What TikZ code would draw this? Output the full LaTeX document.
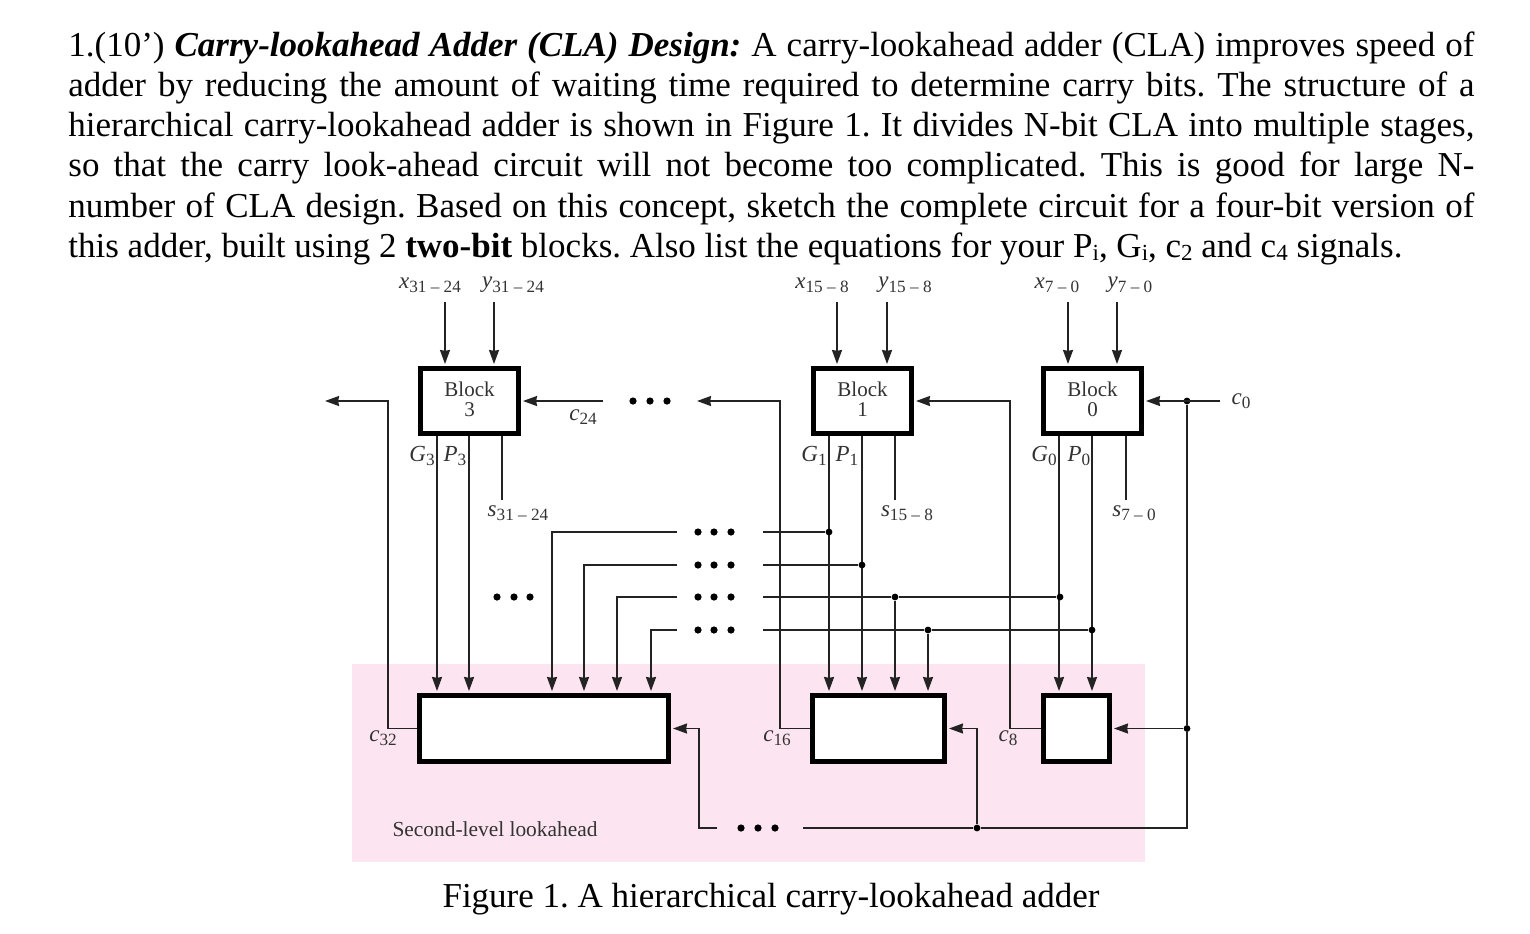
\documentclass[tikz,border=0pt]{standalone}
\usepackage{fontspec}
\setmainfont{Liberation Serif}
\usetikzlibrary{arrows.meta,calc}
\definecolor{lookpink}{RGB}{252,228,240}
\definecolor{wiregray}{RGB}{35,35,35}
\newcommand{\sig}[2]{{\fontsize{11.5}{13}\selectfont\itshape #1}\raisebox{-2.2pt}{\fontsize{8.6}{12}\selectfont #2}}
\newcommand{\lowsub}[1]{\raisebox{-1.6pt}{\fontsize{11.5}{12}\selectfont #1}}

\begin{document}
\begin{tikzpicture}[x=0.5pt, y=-0.5pt,
    wire/.style={draw=wiregray, line width=0.8pt},
    arrow/.style={wire, -{Stealth[length=7pt,width=5pt,inset=0.4pt]}, shorten >=1pt},
    blockbox/.style={rectangle, draw=black, fill=white, line width=2.5pt, minimum width=49pt, minimum height=32.5pt, align=center, text depth=2pt, font=\fontsize{10.5}{10}\selectfont, text=black!80},
    lookbox/.style={rectangle, draw=black, fill=white, line width=2.5pt, minimum height=33pt},
    label/.style={font=\fontsize{11}{12}\selectfont, text=black!80, inner sep=0pt},
    dot/.style={circle, fill=black, inner sep=0pt, minimum size=3.6pt},
    junction/.style={dot, minimum size=3.4pt}
]
\useasboundingbox (0,0) rectangle (1530,933);

% Question text
\node[anchor=north west, inner sep=0pt, text width=703pt, align=justify, font=\fontsize{17.5}{20.15}\selectfont\frenchspacing] (question) at (68,31) {1.(10’) \textbf{\textit{Carry-lookahead Adder (CLA) Design:}} A carry-lookahead adder (CLA) improves speed of\linebreak
adder by reducing the amount of waiting time required to determine carry bits. The structure of a\linebreak
hierarchical carry-lookahead adder is shown in Figure 1. It divides N-bit CLA into multiple stages,\linebreak
so that the carry look-ahead circuit will not become too complicated. This is good for large N-\linebreak
number of CLA design. Based on this concept, sketch the complete circuit for a four-bit version of\linebreak
this adder, built using 2 \textbf{two-bit} blocks. Also list the equations for your P\lowsub{i}, G\lowsub{i}, c\lowsub{2} and c\lowsub{4} signals.};

% Pink second-level region
\node[rectangle, fill=lookpink, minimum width=396.5pt, minimum height=99pt, inner sep=0pt] (region) at (748.5,763) {};

% Upper blocks
\node[blockbox] (blk3) at (469.5,401) {Block\\3};
\node[blockbox] (blk1) at (862.5,401) {Block\\1};
\node[blockbox] (blk0) at (1092.5,401) {Block\\0};

% Lookahead boxes
\node[lookbox, minimum width=124.5pt] (look3) at (544,728.5) {};
\node[lookbox, minimum width=66pt] (look1) at (878.5,728.5) {};
\node[lookbox, minimum width=33pt] (look0) at (1076.5,728.5) {};

% Inputs on top
\node[label] (x3) at (430,285) {\sig{x}{31 – 24}};
\node[label] (y3) at (513,285) {\sig{y}{31 – 24}};
\node[label] (x1) at (822,285) {\sig{x}{15 – 8}};
\node[label] (y1) at (905,285) {\sig{y}{15 – 8}};
\node[label] (x0) at (1057,285) {\sig{x}{7 – 0}};
\node[label] (y0) at (1130,285) {\sig{y}{7 – 0}};
\foreach \name/\xpos/\blk in {x3/445/blk3, y3/494/blk3, x1/837/blk1, y1/887/blk1, x0/1068/blk0, y0/1117/blk0} {
    \coordinate (\name top) at (\xpos,302);
    \draw[arrow] (\name top) -- (\name top |- \blk.north);
}

% Sum outputs
\node[label] (s3) at (518,513) {\sig{s}{31 – 24}};
\node[label] (s1) at (907,513) {\sig{s}{15 – 8}};
\node[label] (s0) at (1134,513) {\sig{s}{7 – 0}};
\coordinate (s3end) at (502,500);
\coordinate (s1end) at (895,500);
\coordinate (s0end) at (1126,500);
\draw[wire] (blk3.south -| s3end) -- (s3end);
\draw[wire] (blk1.south -| s1end) -- (s1end);
\draw[wire] (blk0.south -| s0end) -- (s0end);

% G and P labels
\node[label] (g3) at (422,456) {\sig{G}{3}};
\node[label] (p3) at (455,456) {\sig{P}{3}};
\node[label] (g1) at (814,456) {\sig{G}{1}};
\node[label] (p1) at (847,456) {\sig{P}{1}};
\node[label] (g0) at (1044,456) {\sig{G}{0}};
\node[label] (p0) at (1079,456) {\sig{P}{0}};

% G and P lines down to the lookahead boxes
\foreach \xpos/\blk/\look in {437/blk3/look3, 469/blk3/look3, 829/blk1/look1, 862/blk1/look1, 1059/blk0/look0, 1092/blk0/look0} {
    \coordinate (gp) at (\xpos,500);
    \draw[arrow] (\blk.south -| gp) -- (\look.north -| gp);
}

% Bus lines between the blocks
\coordinate (bus1a) at (677,532);
\coordinate (bus2a) at (677,565);
\coordinate (bus3a) at (677,597);
\coordinate (bus4a) at (677,630);
\coordinate (bus1b) at (763,532);
\coordinate (bus2b) at (763,565);
\coordinate (bus3b) at (763,597);
\coordinate (bus4b) at (763,630);
\coordinate (drop1) at (552,600);
\coordinate (drop2) at (584,600);
\coordinate (drop3) at (617,600);
\coordinate (drop4) at (651,600);
\draw[arrow] (bus1a) -| (drop1 |- look3.north);
\draw[arrow] (bus2a) -| (drop2 |- look3.north);
\draw[arrow] (bus3a) -| (drop3 |- look3.north);
\draw[arrow] (bus4a) -| (drop4 |- look3.north);

\node[junction] (j1) at (829,532) {};
\node[junction] (j2) at (862,565) {};
\node[junction] (j3a) at (895,597) {};
\node[junction] (j3b) at (1060,597) {};
\node[junction] (j4a) at (928,630) {};
\node[junction] (j4b) at (1092,630) {};
\draw[wire] (bus1b) -- (j1);
\draw[wire] (bus2b) -- (j2);
\draw[wire] (bus3b) -- (j3a) -- (j3b);
\draw[wire] (bus4b) -- (j4a) -- (j4b);
\draw[arrow] (j3a) -- (j3a |- look1.north);
\draw[arrow] (j4a) -- (j4a |- look1.north);

% Carry lines
\coordinate (c32end) at (325,401);
\coordinate (c32top) at (388,401);
\draw[arrow, shorten >=0pt] (look3.west) -| (c32top) -- (c32end);
\coordinate (c24start) at (603,401);
\draw[arrow] (c24start) -- (blk3.east);
\coordinate (c16end) at (697,401);
\coordinate (c16top) at (780,401);
\draw[arrow, shorten >=0pt] (look1.west) -| (c16top) -- (c16end);
\coordinate (c8top) at (1010,401);
\draw[arrow] (look0.west) -| (c8top) -- (blk1.east);

% Carry-in and its return line
\coordinate (c0start) at (1220,401);
\node[junction] (c0top) at (1187,401) {};
\node[junction] (c0mid) at (1187,728.5) {};
\coordinate (c0low) at (1187,828);
\node[junction] (ret1) at (977,828) {};
\coordinate (retend) at (803,828);
\coordinate (ret3a) at (717,828);
\coordinate (ret3b) at (699,828);
\draw[arrow] (c0start) -- (blk0.east);
\draw[wire] (c0top) -- (c0mid) -- (c0low) -- (ret1) -- (retend);
\draw[arrow] (c0mid) -- (look0.east);
\draw[arrow] (ret1) |- (look1.east);
\draw[arrow] (ret3a) -- (ret3b) |- (look3.east);

% Dots
\foreach \xpos/\ypos in {633/401, 650/401, 667/401, 497/597, 514/597, 530/597, 741/828, 758/828, 775/828} {
    \node[dot] at (\xpos,\ypos) {};
}
\foreach \ypos in {532, 565, 597, 630} {
    \foreach \xpos in {698, 714, 731} {
        \node[dot] at (\xpos,\ypos) {};
    }
}

% Carry labels
\node[label] (c0) at (1241,401) {\sig{c}{0}};
\node[label] (c24) at (583,417) {\sig{c}{24}};
\node[label] (c32) at (383,738) {\sig{c}{32}};
\node[label] (c16) at (777,738) {\sig{c}{16}};
\node[label] (c8) at (1008,738) {\sig{c}{8}};
\node[label, font=\fontsize{10.7}{12}\selectfont] (second) at (495,829) {Second-level lookahead};

% Caption
\node[inner sep=0pt, font=\fontsize{17.5}{20}\selectfont\frenchspacing] (caption) at (771,899) {Figure 1. A hierarchical carry-lookahead adder};
\end{tikzpicture}
\end{document}
